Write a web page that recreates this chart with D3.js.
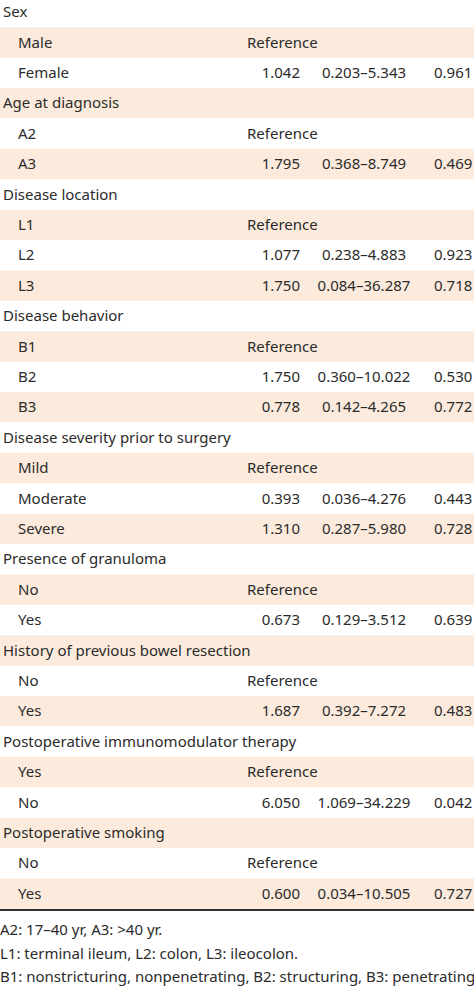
<!DOCTYPE html>
<html><head><meta charset="utf-8">
<script src="https://cdn.jsdelivr.net/npm/d3@7"></script>
<style>body{margin:0;background:#fff;overflow:hidden}</style>
</head><body><div id="chart"></div>
<script>
// table rows: [label, isGroupHeader]
const labels = ["Sex","Male","Female","Age at diagnosis","A2","A3","Disease location","L1","L2","L3",
  "Disease behavior","B1","B2","B3","Disease severity prior to surgery","Mild","Moderate","Severe",
  "Presence of granuloma","No","Yes","History of previous bowel resection","No","Yes",
  "Postoperative immunomodulator therapy","Yes","No","Postoperative smoking","No","Yes"];
const isHeader = [1,0,0,1,0,0,1,0,0,0,1,0,0,0,1,0,0,0,1,0,0,1,0,0,1,0,0,1,0,0];
const orValues = ["","Reference","1.042","","Reference","1.795","","Reference","1.077","1.750","","Reference","1.750","0.778",
  "","Reference","0.393","1.310","","Reference","0.673","","Reference","1.687","","Reference","6.050","","Reference","0.600"];
const ciValues = ["","","0.203–5.343","","","0.368–8.749","","","0.238–4.883","0.084–36.287","","","0.360–10.022","0.142–4.265",
  "","","0.036–4.276","0.287–5.980","","","0.129–3.512","","","0.392–7.272","","","1.069–34.229","","","0.034–10.505"];
const pValues = ["","","0.961","","","0.469","","","0.923","0.718","","","0.530","0.772",
  "","","0.443","0.728","","","0.639","","","0.483","","","0.042","","","0.727"];
const footnotes = ["A2: 17–40 yr, A3: >40 yr.","L1: terminal ileum, L2: colon, L3: ileocolon.",
  "B1: nonstricturing, nonpenetrating, B2: structuring, B3: penetrating."];

const width = 474, height = 987;
const svg = d3.select("#chart").append("svg").attr("width", width).attr("height", height)
  .style("font-family", "'Noto Sans', 'Open Sans', sans-serif").style("font-size", "15px");

const y = d3.scaleBand().domain(d3.range(labels.length)).range([-3, 909]);

const rows = svg.selectAll("g.row").data(labels).join("g")
  .attr("transform", (d, i) => `translate(0,${y(i)})`);

rows.append("rect").attr("width", width).attr("height", y.bandwidth())
  .attr("fill", (d, i) => i % 2 ? "#fcebdd" : "#fff");

const ty = y.bandwidth() / 2 + 5;
rows.append("text").attr("x", (d, i) => isHeader[i] ? 3 : 18).attr("y", ty)
  .attr("fill", "#2b2b2b").text(d => d);

rows.append("text").attr("x", (d, i) => orValues[i] === "Reference" ? 247 : 300)
  .attr("text-anchor", (d, i) => orValues[i] === "Reference" ? "start" : "end")
  .attr("y", ty).attr("fill", "#2b2b2b").text((d, i) => orValues[i]);

rows.append("text").attr("x", 364).attr("text-anchor", "middle")
  .attr("y", ty).attr("fill", "#2b2b2b").text((d, i) => ciValues[i]);

rows.append("text").attr("x", 434).attr("y", ty).attr("fill", "#2b2b2b").text((d, i) => pValues[i]);

svg.append("line").attr("x1", 0).attr("x2", width).attr("y1", 910).attr("y2", 910)
  .attr("stroke", "#333").attr("stroke-width", 2);

svg.selectAll("text.foot").data(footnotes).join("text").attr("class", "foot")
  .attr("x", 0).attr("y", (d, i) => 935 + i * 23.5).attr("fill", "#2b2b2b")
  .style("font-size", "15px").text(d => d);
</script></body></html>
